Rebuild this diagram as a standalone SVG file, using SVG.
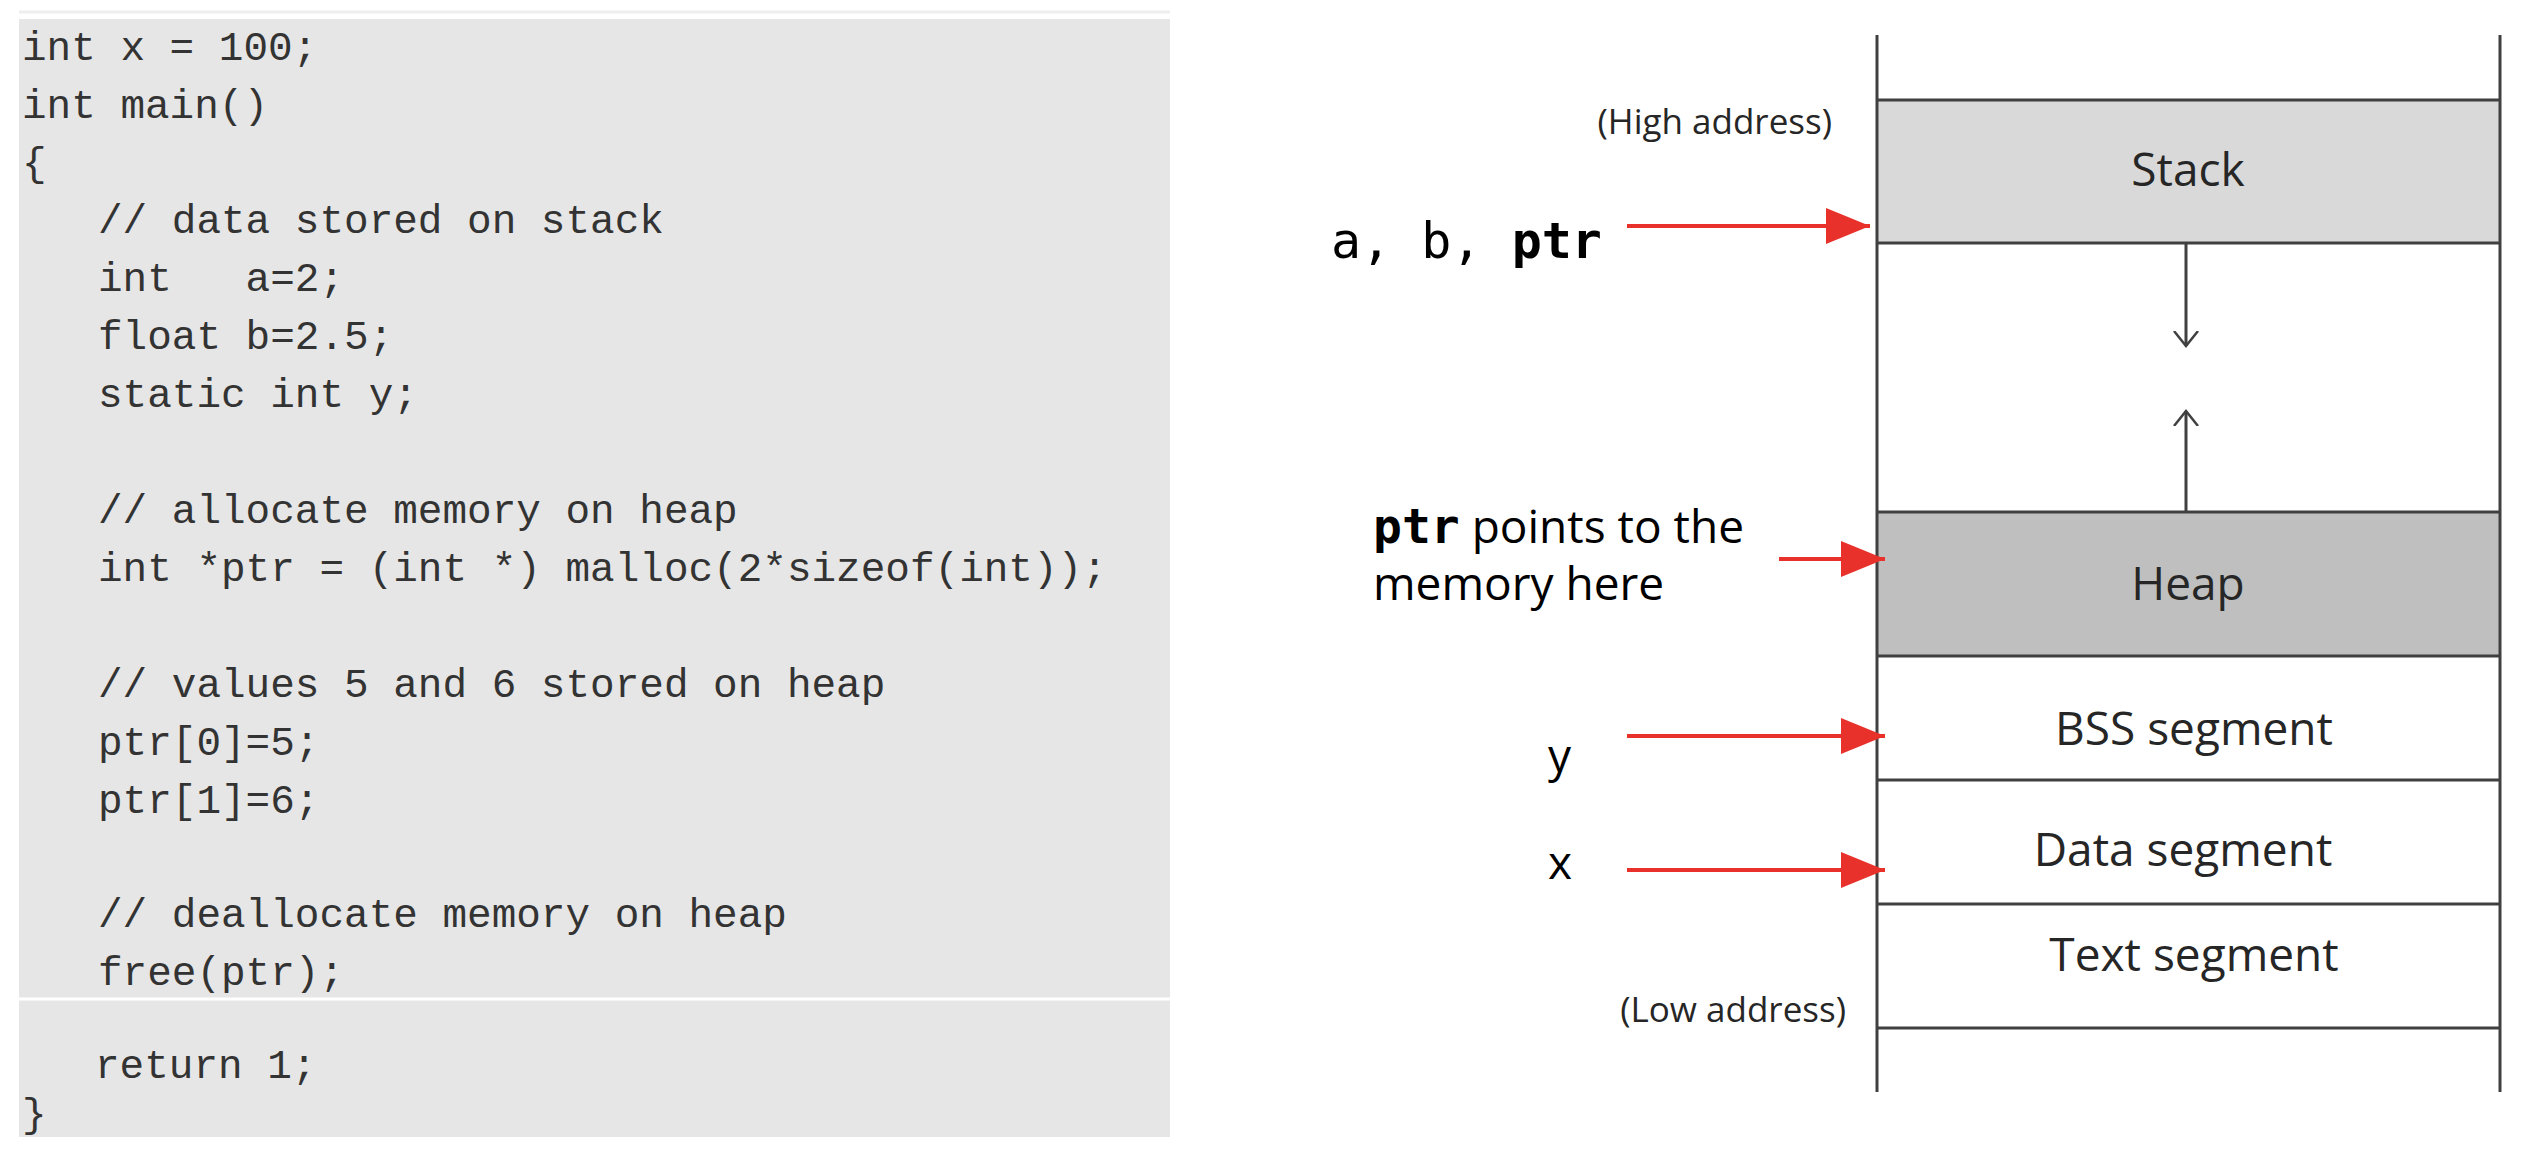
<svg xmlns="http://www.w3.org/2000/svg" width="2526" height="1152" viewBox="0 0 2526 1152">
<defs>
<marker id="red" markerWidth="44" markerHeight="36" refX="44" refY="18" orient="auto" markerUnits="userSpaceOnUse" viewBox="0 0 44 36"><path d="M0,0 L44,18 L0,36 z" fill="#e8312a"/></marker>
<marker id="open" markerWidth="30" markerHeight="30" refX="15" refY="15" orient="auto" markerUnits="userSpaceOnUse" viewBox="0 0 30 30"><path d="M0,3 L15,15 L0,27" fill="none" stroke="#404040" stroke-width="2.5"/></marker>
</defs>
<style>
.code{font-family:"Liberation Mono",monospace;font-size:41px;fill:#333;white-space:pre}
.seg{font-family:"Open Sans","Liberation Sans",sans-serif;font-size:46px;fill:#262626;text-anchor:middle}
.addr{font-family:"Open Sans","Liberation Sans",sans-serif;font-size:35px;fill:#262626;text-anchor:end}
.lbl{font-family:"Open Sans","Liberation Sans",sans-serif;font-size:46px;fill:#000}
.mono{font-family:"DejaVu Sans Mono","Liberation Mono",monospace;fill:#000}
.line{stroke:#404040;stroke-width:3;fill:none}
.ra{stroke:#e8312a;stroke-width:4;fill:none}
</style>
<rect width="2526" height="1152" fill="#fff"/>
<g id="code">
<rect x="19" y="19" width="1151" height="1118" fill="#e6e6e6"/>
<line x1="19" y1="12" x2="1170" y2="12" stroke="#eee" stroke-width="3"/>
<line x1="19" y1="999" x2="1170" y2="999" stroke="#fff" stroke-width="3"/>
<text class="code" x="22" y="60">int x = 100;</text>
<text class="code" x="22" y="118">int main()</text>
<text class="code" x="22" y="176">{</text>
<text class="code" x="98" y="233">// data stored on stack</text>
<text class="code" x="98" y="291" xml:space="preserve">int   a=2;</text>
<text class="code" x="98" y="349">float b=2.5;</text>
<text class="code" x="98" y="407">static int y;</text>
<text class="code" x="98" y="523">// allocate memory on heap</text>
<text class="code" x="98" y="581">int *ptr = (int *) malloc(2*sizeof(int));</text>
<text class="code" x="98" y="697">// values 5 and 6 stored on heap</text>
<text class="code" x="98" y="755">ptr[0]=5;</text>
<text class="code" x="98" y="813">ptr[1]=6;</text>
<text class="code" x="98" y="927">// deallocate memory on heap</text>
<text class="code" x="98" y="985">free(ptr);</text>
<text class="code" x="95" y="1078">return 1;</text>
<text class="code" x="22" y="1127">}</text>
</g>
<g id="memory">
<rect id="stack" x="1877" y="100" width="623" height="143" fill="#d9d9d9"/>
<rect id="heap" x="1877" y="512" width="623" height="144" fill="#bfbfbf"/>
<line class="line" x1="1877" y1="35" x2="1877" y2="1092"/>
<line class="line" x1="2500" y1="35" x2="2500" y2="1092"/>
<line class="line" x1="1877" y1="100" x2="2500" y2="100"/>
<line class="line" x1="1877" y1="243" x2="2500" y2="243"/>
<line class="line" x1="1877" y1="512" x2="2500" y2="512"/>
<line class="line" x1="1877" y1="656" x2="2500" y2="656"/>
<line class="line" x1="1877" y1="780" x2="2500" y2="780"/>
<line class="line" x1="1877" y1="904" x2="2500" y2="904"/>
<line class="line" x1="1877" y1="1028" x2="2500" y2="1028"/>
<text class="seg" x="2188" y="186">Stack</text>
<text class="seg" x="2188" y="600">Heap</text>
<text class="seg" x="2194" y="745">BSS segment</text>
<text class="seg" x="2183" y="866">Data segment</text>
<text class="seg" x="2194" y="971">Text segment</text>
<text class="addr" x="1832" y="134">(High address)</text>
<text class="addr" x="1846" y="1022">(Low address)</text>
</g>
<g id="labels">
<text class="mono" x="1331" y="258" font-size="50">a, b, <tspan font-weight="bold">ptr</tspan></text>
<text class="lbl" x="1373" y="543"><tspan class="mono" font-weight="bold" font-size="48">ptr</tspan> points to the</text>
<text class="lbl" x="1373" y="600">memory here</text>
<text class="lbl" x="1548" y="772">y</text>
<text class="lbl" x="1548" y="879">x</text>
</g>
<g id="connectors">
<line class="line" x1="2186" y1="243" x2="2186" y2="346" stroke-width="2.5" marker-end="url(#open)"/>
<line class="line" x1="2186" y1="512" x2="2186" y2="411" stroke-width="2.5" marker-end="url(#open)"/>
<path class="ra" d="M1627,226 H1870" marker-end="url(#red)"/>
<path class="ra" d="M1779,559 H1885" marker-end="url(#red)"/>
<path class="ra" d="M1627,736 H1885" marker-end="url(#red)"/>
<path class="ra" d="M1627,870 H1885" marker-end="url(#red)"/>
</g>
</svg>
